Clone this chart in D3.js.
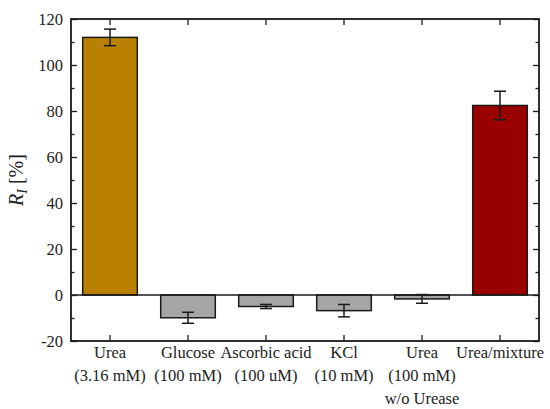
<!DOCTYPE html>
<html><head><meta charset="utf-8">
<script src="https://cdn.jsdelivr.net/npm/d3@7"></script>
<style>body{margin:0;background:#fff}</style>
</head><body><svg id="c" width="550" height="409" font-family="Liberation Serif, Times New Roman, DejaVu Serif, serif"></svg>
<script>
const categories = ["Urea|(3.16 mM)", "Glucose|(100 mM)", "Ascorbic acid|(100 uM)", "KCl|(10 mM)", "Urea|(100 mM)|w/o Urease", "Urea/mixture"];
const values = [112, -9.9, -5.0, -6.8, -1.7, 82.4];
const errors = [3.6, 2.4, 0.9, 2.7, 1.9, 6.2];
const colors = ["#BA8000", "#A5A5A5", "#A5A5A5", "#A5A5A5", "#A5A5A5", "#990000"];
const yTicks = [-20, 0, 20, 40, 60, 80, 100, 120];

const FONT = "Liberation Serif, Times New Roman, DejaVu Serif, serif";
const svg = d3.select("#c");
const L = 71, R = 539, T = 19, B = 341;
const x = d3.scaleBand().domain(categories).range([L, R]).paddingInner(0.3).paddingOuter(0.15);
const y = d3.scaleLinear().domain([-20, 120]).range([B, T]);
const ink = "#1a1a1a";

// bars
svg.append("g").selectAll("rect").data(values).join("rect")
  .attr("x", (d, i) => x(categories[i]))
  .attr("width", x.bandwidth())
  .attr("y", d => y(Math.max(0, d)))
  .attr("height", d => Math.abs(y(d) - y(0)))
  .attr("fill", (d, i) => colors[i])
  .attr("stroke", ink).attr("stroke-width", 1.5);

// zero line
svg.append("line").attr("x1", L).attr("x2", R).attr("y1", y(0)).attr("y2", y(0)).attr("stroke", ink).attr("stroke-width", 1.3);

// error bars
const eb = svg.append("g").attr("stroke", ink).attr("stroke-width", 1.5);
values.forEach((v, i) => {
  const cx = x(categories[i]) + x.bandwidth() / 2;
  const y1 = y(v + errors[i]), y2 = y(v - errors[i]);
  eb.append("line").attr("x1", cx).attr("x2", cx).attr("y1", y1).attr("y2", y2);
  eb.append("line").attr("x1", cx - 6).attr("x2", cx + 6).attr("y1", y1).attr("y2", y1);
  eb.append("line").attr("x1", cx - 6).attr("x2", cx + 6).attr("y1", y2).attr("y2", y2);
});

// axes
const fs = 16.5;
const gL = svg.append("g").attr("transform", `translate(${L},0)`)
  .call(d3.axisLeft(y).tickValues(yTicks).tickSize(-6).tickPadding(8).tickFormat(d => String(d)));
const gR = svg.append("g").attr("transform", `translate(${R},0)`)
  .call(d3.axisRight(y).tickValues(yTicks).tickSize(-6).tickFormat(""));
const minor = d3.range(-10, 120, 20);
const gLm = svg.append("g").attr("transform", `translate(${L},0)`)
  .call(d3.axisLeft(y).tickValues(minor).tickSize(-3.5).tickFormat(""));
const gRm = svg.append("g").attr("transform", `translate(${R},0)`)
  .call(d3.axisRight(y).tickValues(minor).tickSize(-3.5).tickFormat(""));
const gB = svg.append("g").attr("transform", `translate(0,${B})`)
  .call(d3.axisBottom(x).tickSize(-6).tickFormat(""));
const gT = svg.append("g").attr("transform", `translate(0,${T})`)
  .call(d3.axisTop(x).tickSize(-6).tickFormat(""));
[gL, gR, gLm, gRm, gB, gT].forEach(g => {
  g.attr("font-family", FONT);
  g.selectAll(".domain").remove();
  g.selectAll("line").attr("stroke", ink).attr("stroke-width", 1.3);
});
gL.selectAll("text").attr("font-size", fs).attr("fill", "#222");

// frame
svg.append("rect").attr("x", L).attr("y", T).attr("width", R - L).attr("height", B - T)
  .attr("fill", "none").attr("stroke", ink).attr("stroke-width", 1.8);

// category labels
categories.forEach(c => {
  const cx = x(c) + x.bandwidth() / 2;
  const t = svg.append("text").attr("text-anchor", "middle").attr("font-size", fs).attr("fill", "#222");
  c.split("|").forEach((ln, k) => {
    t.append("tspan").attr("x", cx).attr("y", 358 + k * 23).text(ln);
  });
});

// y label
const yl = svg.append("text").attr("transform", `translate(23,${(T + B) / 2}) rotate(-90)`)
  .attr("text-anchor", "middle").attr("font-size", 20).attr("fill", "#222");
yl.append("tspan").attr("font-style", "italic").text("R");
yl.append("tspan").attr("font-style", "italic").attr("font-size", 14).attr("dy", 4).text("I");
yl.append("tspan").attr("dy", -4).text(" [%]");
</script></body></html>
